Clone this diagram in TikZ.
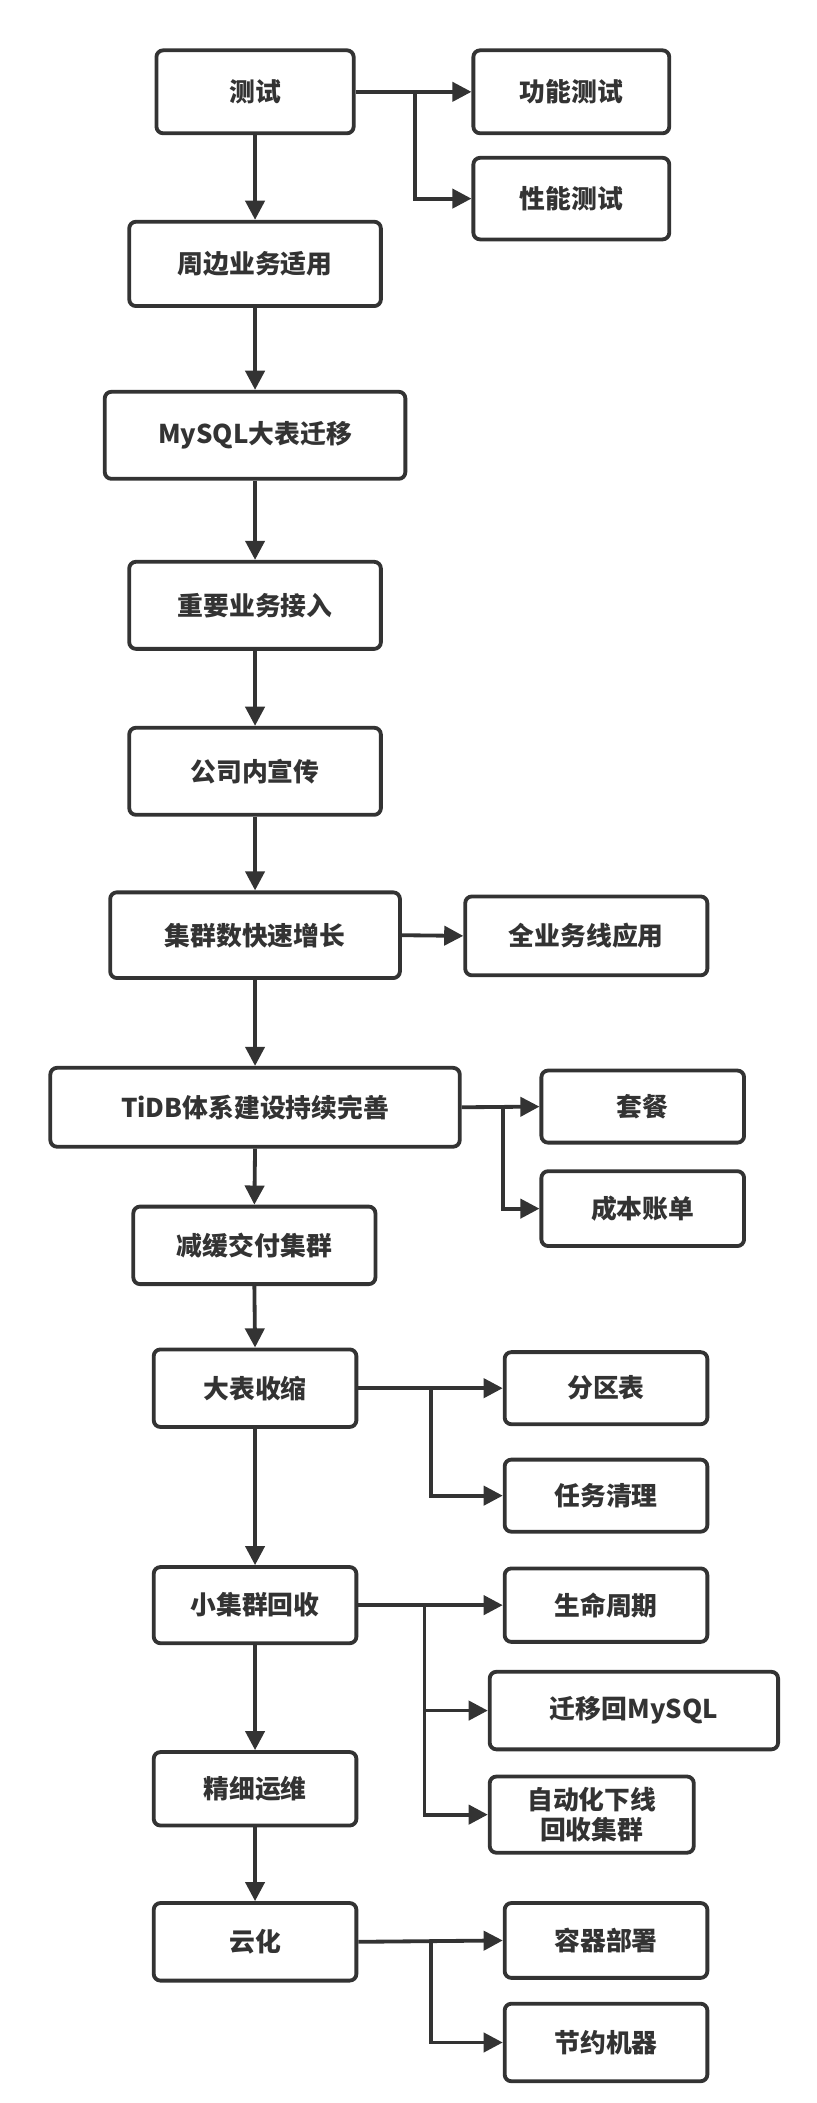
\documentclass[tikz,border=0pt]{standalone}
\usepackage{fontspec}
\setmainfont{Noto Sans CJK SC}
\usetikzlibrary{arrows.meta}
\newcommand\bx[6]{\node[box,minimum width={(#4-#2)*0.05cm},minimum height={(#5-#3)*0.05cm}] (#1) at ({(#2+#4)/2},{-(#3+#5)/2}) {#6};}
\begin{document}
\begin{tikzpicture}[x=0.05cm,y=0.05cm,
 box/.style={draw=black!80,line width=4pt,rounded corners=7pt,fill=white,inner sep=0pt,font=\fontsize{27}{32}\selectfont\bfseries,text=black!80,align=center},
 arr/.style={draw=black!80,line width=4pt,-{Triangle[length=20pt,width=20pt]}}]
\useasboundingbox (0,0) rectangle (600,-1546);
\bx{t}{115}{37}{260}{98}{测试}
\bx{t1}{348}{37}{492}{98}{功能测试}
\bx{t2}{348}{116}{492}{176}{性能测试}
\bx{a}{95}{163}{280}{225}{周边业务适用}
\bx{b}{77}{288}{298}{352}{MySQL大表迁移}
\bx{c}{95}{413}{280}{477}{重要业务接入}
\bx{d}{95}{535}{280}{599}{公司内宣传}
\bx{e}{81}{656}{294}{719}{集群数快速增长}
\bx{e1}{342}{659}{520}{717}{全业务线应用}
\bx{f}{37}{785}{338}{843}{TiDB体系建设持续完善}
\bx{f1}{398}{787}{547}{840}{套餐}
\bx{f2}{398}{861}{547}{916}{成本账单}
\bx{g}{98}{887}{276}{944}{减缓交付集群}
\bx{h}{113}{992}{262}{1049}{大表收缩}
\bx{h1}{371}{994}{520}{1047}{分区表}
\bx{h2}{371}{1073}{520}{1126}{任务清理}
\bx{i}{113}{1152}{262}{1208}{小集群回收}
\bx{i1}{371}{1153}{520}{1207}{生命周期}
\bx{i2}{360}{1229}{572}{1286}{迁移回MySQL}
\bx{i3}{360}{1306}{510}{1362}{自动化下线\\回收集群}
\bx{j}{113}{1288}{262}{1342}{精细运维}
\bx{k}{113}{1399}{262}{1456}{云化}
\bx{k1}{371}{1399}{520}{1454}{容器部署}
\bx{k2}{371}{1473}{520}{1530}{节约机器}
\foreach \u/\v in {t/a,a/b,b/c,c/d,d/e,e/f,f/g,g/h,h/i,i/j,j/k}
  \draw[arr] (\u.south) -- (\v.north);
\coordinate (jt) at (305,-67.5);
\coordinate (jf) at (370,-814);
\coordinate (jh) at (317,-1020.5);
\coordinate (ji) at (312,-1180);
\coordinate (jk) at (317,-1427.5);
\draw[arr] (t.east) -- (t1.west);
\draw[arr] (jt) |- (t2.west);
\draw[arr] (e.east) -- (e1.west);
\draw[arr] (f.east) -- (f1.west);
\draw[arr] (jf) |- (f2.west);
\draw[arr] (h.east) -- (h1.west);
\draw[arr] (jh) |- (h2.west);
\draw[arr] (i.east) -- (i1.west);
\draw[arr] (ji) |- (i2.west);
\draw[arr] (ji) |- (i3.west);
\draw[arr] (k.east) -- (k1.west);
\draw[arr] (jk) |- (k2.west);
\end{tikzpicture}
\end{document}
